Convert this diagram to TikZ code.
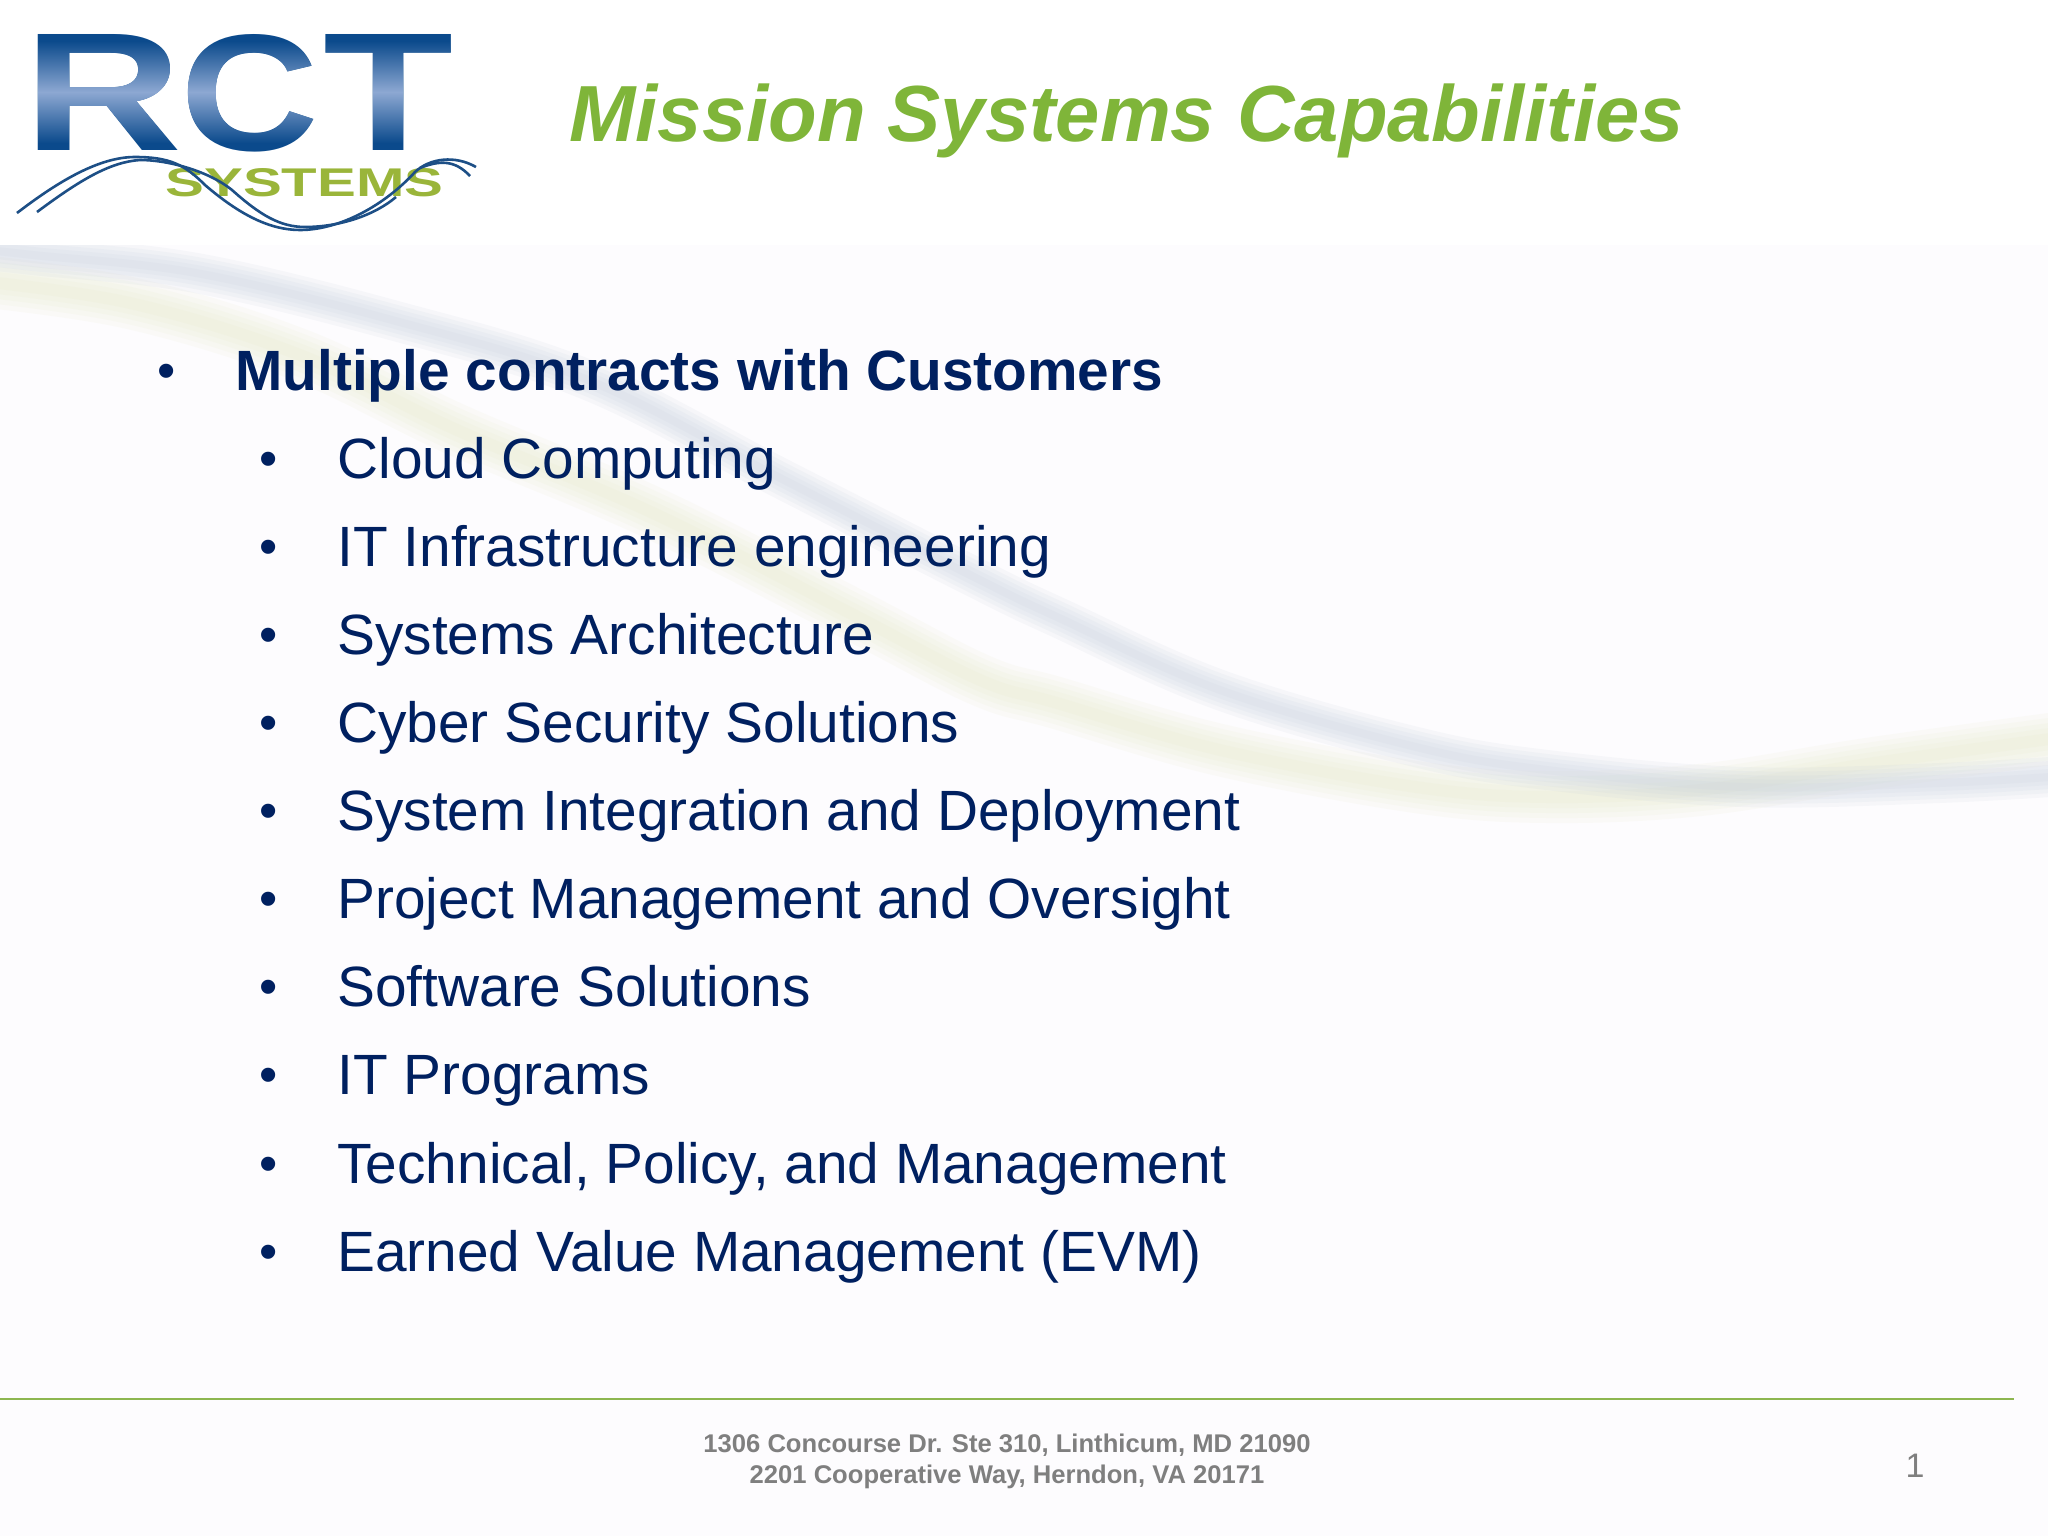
\documentclass[tikz,border=0pt]{standalone}
\usepackage{fontspec}
\usepackage{graphicx}
\setmainfont{Liberation Sans}
\definecolor{navy}{HTML}{002060}
\definecolor{titlegreen}{HTML}{7FB539}
\definecolor{footgrey}{HTML}{7F7F7F}
\definecolor{rule}{HTML}{8DB650}
\definecolor{logoblue}{HTML}{0B4A8C}
\definecolor{logomid}{HTML}{8DA8D2}
\definecolor{logogreen}{HTML}{9AB53A}
\definecolor{wave}{HTML}{1D4F86}
\definecolor{bgtint}{HTML}{FDFCFE}
\definecolor{swblue}{HTML}{C4CEDD}
\definecolor{swgreen}{HTML}{E2E8BE}
\pgfdeclareverticalshading{rctband}{100bp}{color(0bp)=(logoblue); color(28bp)=(logoblue); color(50bp)=(logomid); color(72bp)=(logoblue); color(100bp)=(logoblue)}
\tikzset{
  item/.style={anchor=base west,inner sep=0pt,font=\fontsize{28.4}{30}\selectfont,text=navy},
  dot/.style={anchor=base,inner sep=0pt,font=\fontsize{26}{28}\selectfont,text=navy},
  wavel/.style={draw=wave,line width=1.3pt},
  logoletter/.style={anchor=north west,inner sep=0pt,text=logoblue},
}
\newcommand{\bluepath}{plot[smooth,tension=.6] coordinates {(-30,248) (33,255) (196,273) (392,320) (588,380) (784,480) (980,580) (1057,617) (1220,690) (1416,747) (1547,770) (1743,787) (1939,783) (2080,775)}}
\newcommand{\greenpath}{plot[smooth,tension=.6] coordinates {(-30,280) (130,303) (300,355) (457,430) (653,513) (850,613) (980,680) (1057,703) (1220,750) (1416,787) (1547,797) (1700,790) (1874,763) (2080,735)}}
\begin{document}
\begin{tikzpicture}[x=0.5pt,y=-0.5pt]
\useasboundingbox (0,0) rectangle (2048,1536);
\fill[white] (0,0) rectangle (2048,1536);
\fill[bgtint] (0,245) rectangle (2048,1536);
% background swooshes (soft layered strokes)
\begin{scope}
\clip (0,245) rectangle (2048,1536);
\foreach \w in {26,21,16,11,6}{
  \draw[swgreen,line width=\w pt,opacity=.1] \greenpath;
}
\foreach \w in {20,16,12,8,4}{
  \draw[swblue,line width=\w pt,opacity=.12] \bluepath;
}
\end{scope}
% logo
\node[logoletter] (r) at (23,34) {\resizebox{79.5pt}{58pt}{\bfseries R}};
\node[logoletter] (c) at (180,34) {\resizebox{69.3pt}{58pt}{\bfseries C}};
\node[logoletter] (t) at (323,34) {\resizebox{65pt}{58pt}{\bfseries T}};
\shade[shading=rctband,blend mode=lighten] (20,34) rectangle (460,150);
\node[anchor=north west,inner sep=0pt,text=logogreen] (sys) at (165,168) {\resizebox{139pt}{14pt}{\bfseries SYSTEMS}};
\draw[wavel] (17,213) .. controls (60,180) and (100,157) .. (135,157) .. controls (170,157) and (185,165) .. (205,185) .. controls (240,215) and (270,230) .. (300,230) .. controls (340,230) and (385,205) .. (415,172) .. controls (430,158) and (455,155) .. (476,167);
\draw[wavel] (37,212) .. controls (80,180) and (110,162) .. (140,160) .. controls (170,160) and (210,172) .. (232,190) .. controls (260,215) and (280,227) .. (305,227) .. controls (340,227) and (375,215) .. (396,197);
\draw[wavel] (420,168) .. controls (440,160) and (455,160) .. (470,176);
% title
\node[anchor=base west,inner sep=0pt,font=\fontsize{39.8}{42}\selectfont\bfseries\itshape,text=titlegreen] (title) at (569,141) {Mission Systems Capabilities};
% list
\node[dot] (b0) at (167,388) {•};
\node[item,font=\fontsize{28.4}{30}\selectfont\bfseries] (l0) at (235,390) {Multiple contracts with Customers};
\foreach \n/\y/\t in {1/478/Cloud Computing,2/566/IT Infrastructure engineering,3/654/Systems Architecture,4/742/Cyber Security Solutions,5/830/System Integration and Deployment,6/918/Project Management and Oversight,7/1006/Software Solutions,8/1094/IT Programs,9/1183/{Technical, Policy, and Management},10/1271/Earned Value Management (EVM)}{
  \node[dot] (b\n) at (269,\y-2) {•};
  \node[item] (l\n) at (337,\y) {\t};
}
% footer
\coordinate (ruleL) at (0,1399);
\coordinate (ruleR) at (2014,1399);
\draw[rule,line width=1pt] (ruleL) -- (ruleR);
\node[anchor=base,inner sep=0pt,font=\fontsize{12.8}{15}\selectfont\bfseries,text=footgrey] (f1) at (1007,1452) {1306 Concourse Dr. Ste 310, Linthicum, MD 21090};
\node[anchor=base,inner sep=0pt,font=\fontsize{12.8}{15}\selectfont\bfseries,text=footgrey] (f2) at (1007,1483) {2201 Cooperative Way, Herndon, VA 20171};
\node[anchor=base,inner sep=0pt,font=\fontsize{17}{18}\selectfont,text=footgrey] (pg) at (1915,1477) {1};
\end{tikzpicture}
\end{document}
